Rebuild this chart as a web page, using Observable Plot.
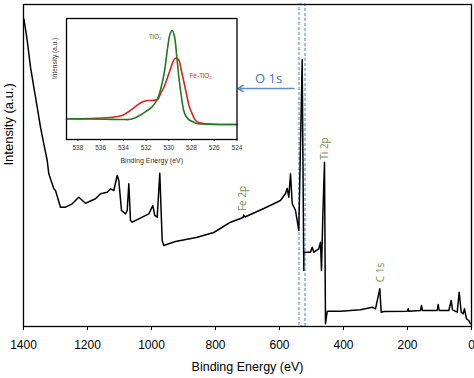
<!DOCTYPE html>
<html><head><meta charset="utf-8">
<script src="https://cdn.jsdelivr.net/npm/d3@7"></script>
<script src="https://cdn.jsdelivr.net/npm/@observablehq/plot@0.6"></script>
<style>
body{margin:0;background:#fff}
#c{position:relative;width:474px;height:378px;overflow:hidden}
#inset{position:absolute;left:40px;top:8px}
#main{position:absolute;left:0;top:0}
</style>
</head><body><div id="c"><div id="main"></div><div id="inset"></div></div>
<script>
// ---- survey spectrum (binding energy eV, intensity a.u.) ----
const surveyEnergy = [1399, 1393.8, 1388.4, 1378.1, 1367.8, 1357.2, 1346.9, 1336.6, 1325.9, 1320.9, 1305.3, 1300, 1284.4, 1268.8, 1247.8, 1227.2, 1206.3, 1175, 1159.4, 1138.4, 1128.1, 1117.8, 1107.2, 1102.2, 1093.8, 1081.3, 1075.9, 1070.9, 1065.6, 1060.3, 1039.7, 1008.4, 995.9, 989.7, 982.2, 974.1, 966.6, 961.6, 945.9, 925, 860, 805.3, 753.1, 721.9, 714, 711.6, 708, 649, 596.9, 581.3, 575.9, 570.9, 565.6, 560.3, 550, 539.7, 529.1, 524.1, 523.9, 503.1, 497.8, 492.8, 477.2, 471.9, 468.8, 464.7, 459.4, 456.3, 450.9, 409.4, 346.9, 310.3, 300, 286.6, 282.2, 274.1, 201, 197.8, 196, 159.4, 156.3, 153.1, 107.2, 104.1, 101, 70.9, 63.4, 59.4, 44.7, 38.4, 32.2, 25.9, 21.9, 15.6, 8.4, 3.1];
const surveyIntensity = [307.7, 297.7, 286, 259.3, 239.3, 219.3, 199.3, 182.7, 166, 152.7, 137.7, 136, 119.3, 119.3, 122.7, 129.3, 123.3, 127.7, 132.7, 134.3, 137.7, 136, 151, 146, 116, 112.7, 116, 142.7, 106, 104.3, 107.7, 112.7, 121, 111, 109.3, 153.3, 86, 81, 82.7, 85, 89, 94, 104.3, 108, 109, 111.5, 109.5, 118, 126, 133, 138, 129.3, 152.7, 123, 116, 96, 266.7, 56, 74.3, 74.3, 79.3, 74.3, 77.7, 84.3, 56, 109.3, 164.3, 2.7, 15.3, 15.3, 16.7, 19.3, 17.7, 37.7, 14.3, 15, 15.3, 17.7, 15.3, 16, 21, 16, 16, 22, 16, 16, 26, 16.7, 14.3, 34.3, 14.3, 12.7, 17.7, 7.7, 6, 2.7];
const surveyTicks = [1400, 1200, 1000, 800, 600, 400, 200, 0];

// peak annotations
const peakNames = ["Fe 2p", "Ti 2p", "C 1s"];
const peakEnergy = [715.6, 459.4, 282.2];
const peakLabelHeight = [128, 178, 54];

// O 1s window and arrow
const o1sWindow = [537.5, 518.75];
const o1sArrow = {from: 555, to: 730, level: 238, label: "O 1s", labelEnergy: 634, labelLevel: 248};

// ---- inset: O 1s high resolution ----
const o1sEnergy = [539, 537, 535.5, 534.5, 534, 533.5, 533, 532.5, 532, 531.5, 531, 530.7, 530.4, 530.1, 529.9, 529.7, 529.5, 529.3, 529.1, 528.9, 528.7, 528.5, 528.2, 528, 527.6, 527, 526, 525, 524];
const tio2Intensity = [20.7, 20.5, 20.3, 20, 20, 20, 21.5, 24.5, 28.2, 32.3, 40.5, 51, 66.8, 92, 105, 109, 103, 83, 61, 43.5, 29.5, 23.5, 19.5, 18.5, 16.3, 15.5, 15, 15, 15];
const feTio2Intensity = [20.7, 21, 21.7, 23, 24.5, 28, 32.4, 36.5, 38.8, 39, 40, 46.4, 53, 62.4, 69, 75.7, 80.5, 81.5, 79, 69, 59, 48.6, 33, 27.3, 18.5, 16, 15.3, 15, 15];
const insetTicks = [538, 536, 534, 532, 530, 528, 526, 524];
const seriesNames = ["TiO₂", "Fe-TiO₂"];
const seriesLabelEnergy = [531.2, 527.2];
const seriesLabelLevel = [103, 64];

const survey = surveyEnergy.map((e, i) => ({e, v: surveyIntensity[i]}));
const peaks = peakNames.map((n, i) => ({n, e: peakEnergy[i], v: peakLabelHeight[i]}));
const sansFont = "'Liberation Sans', Arial, sans-serif";
const humanist = "'Open Sans', 'Noto Sans', sans-serif";

const main = Plot.plot({
  width: 474, height: 378,
  marginTop: 4, marginBottom: 52, marginLeft: 23, marginRight: 3,
  style: {fontFamily: sansFont, fontSize: "12px", background: "white", color: "black"},
  x: {domain: [1400, 0], ticks: surveyTicks, tickSize: 4, tickPadding: 10, label: null, tickFormat: d => String(d)},
  y: {domain: [0, 322], axis: null},
  marks: [
    Plot.rect([{a: o1sWindow[0], b: o1sWindow[1]}], {x1: "a", x2: "b", y1: () => 0, y2: () => 322,
      stroke: "#5b9bd5", strokeDasharray: "3,2", fill: "none", strokeWidth: 1.2}),
    Plot.line(survey, {x: "e", y: "v", stroke: "black", strokeWidth: 1.5}),
    Plot.frame({stroke: "black", strokeWidth: 1.3}),
    Plot.arrow([o1sArrow], {x1: "from", x2: "to", y1: "level", y2: "level", stroke: "#5b8ec4", strokeWidth: 1.5, headLength: 6}),
    Plot.text([o1sArrow], {x: "labelEnergy", y: "labelLevel", text: "label", fill: "#3d78b6", fontSize: 13, fontFamily: humanist}),
    Plot.text(peaks, {x: "e", y: "v", text: "n", rotate: -90, fill: "#6f9156", fontSize: 10, fontFamily: humanist}),
    Plot.text(["Intensity (a.u.)"], {frameAnchor: "left", dx: -15, rotate: -90, fontSize: 13, fill: "black"}),
    Plot.text(["Binding Energy (eV)"], {frameAnchor: "bottom", dy: 44, fontSize: 12.5, fill: "black"})
  ]
});
document.getElementById("main").appendChild(main);

const tio2 = o1sEnergy.map((e, i) => ({e, v: tio2Intensity[i]}));
const fe = o1sEnergy.map((e, i) => ({e, v: feTio2Intensity[i]}));
const seriesLabels = seriesNames.map((n, i) => ({n, e: seriesLabelEnergy[i], v: seriesLabelLevel[i]}));
const colors = ["#1f7a1f", "#dd2020"];

const inset = Plot.plot({
  width: 205, height: 165,
  marginLeft: 26, marginRight: 8.5, marginTop: 10, marginBottom: 34,
  style: {fontFamily: sansFont, fontSize: "6.5px", background: "transparent", color: "#333"},
  x: {domain: [539, 524], ticks: insetTicks, tickSize: 2, tickPadding: 4, label: null, tickFormat: d => String(d)},
  y: {domain: [0, 121], axis: null},
  marks: [
    Plot.line(fe, {x: "e", y: "v", stroke: colors[1], strokeWidth: 1.6, curve: "catmull-rom"}),
    Plot.line(tio2, {x: "e", y: "v", stroke: colors[0], strokeWidth: 1.6, curve: "catmull-rom"}),
    Plot.frame({stroke: "black", strokeWidth: 1.3}),
    Plot.text(seriesLabels, {x: "e", y: "v", text: "n", fill: (d, i) => colors[i], fontSize: 6.5}),
    Plot.text(["Intensity (a.u.)"], {frameAnchor: "left", dx: -12, rotate: -90, fontSize: 6.5, fill: "#333"}),
    Plot.text(["Binding Energy (eV)"], {frameAnchor: "bottom", dy: 23, fontSize: 7, fill: "#333"})
  ]
});
document.getElementById("inset").appendChild(inset);
</script>
</body></html>
